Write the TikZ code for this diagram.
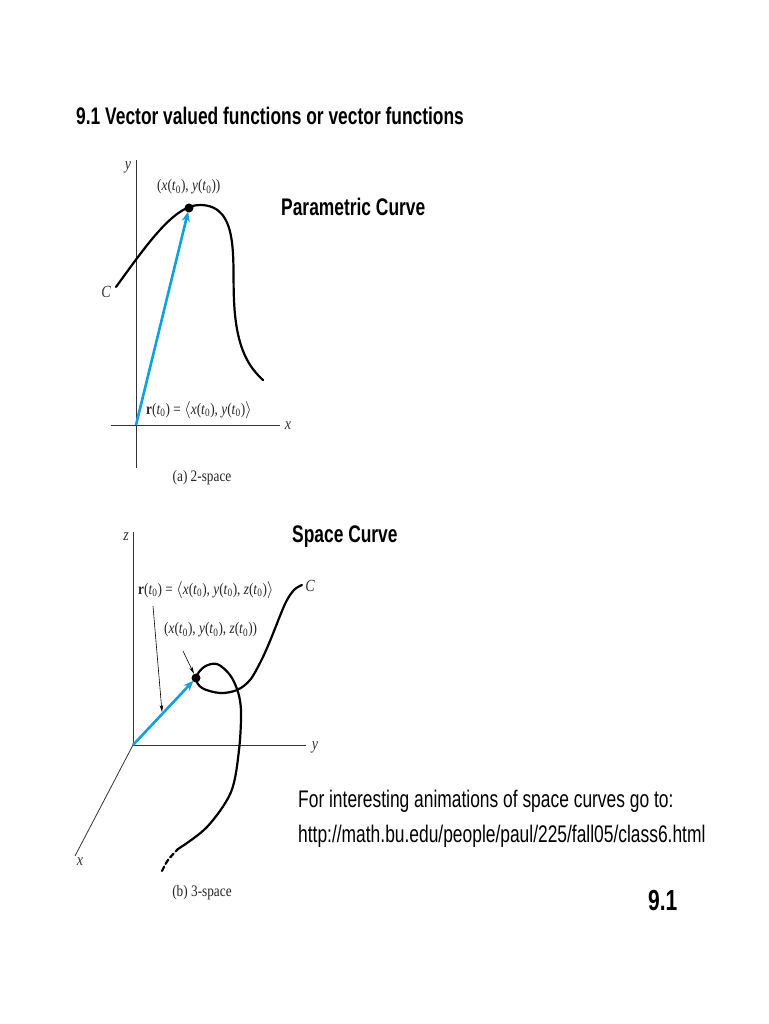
\documentclass[tikz,border=0pt]{standalone}
\usepackage{fontspec}
\setmainfont{Liberation Sans}[FakeStretch=0.725]
\newfontfamily\serf{Liberation Serif}[FakeStretch=0.83]
\usetikzlibrary{arrows.meta}
\definecolor{vecblue}{RGB}{15,160,228}
\newcommand{\tsub}{\textit{t}\textsubscript{0}}
\tikzset{
  axisline/.style={line width=0.8pt, draw=black!80},
  curveline/.style={line width=2.2pt, line cap=round},
  vec/.style={line width=2.6pt, draw=vecblue, -{Stealth[length=10pt,width=8pt,inset=3pt]}, shorten >=-1pt},
  thinarrow/.style={line width=0.6pt, -{Stealth[length=7pt,width=3.5pt]}},
  dotnode/.style={circle, fill=black, inner sep=0pt, minimum size=9pt},
  mlab/.style={font=\serf\fontsize{16}{18}\selectfont, inner sep=0pt, text=black!85},
  axlab/.style={font=\serf\itshape\fontsize{17}{19}\selectfont, inner sep=0pt, text=black!80},
  headtxt/.style={font=\bfseries\fontsize{24}{28}\selectfont, inner sep=0pt},
  bodytxt/.style={font=\fontsize{24}{28}\selectfont, inner sep=0pt},
}
\begin{document}
\begin{tikzpicture}[x=1pt,y=-1pt]
\useasboundingbox[fill=white] (0,0) rectangle (768,1024);

% ---------- texts ----------
\node[headtxt, anchor=west] (title) at (76,116) {9.1 Vector valued functions or vector functions};
\node[headtxt, anchor=west] (param) at (281,207) {Parametric Curve};
\node[headtxt, anchor=west] (space) at (292,537) {Space Curve};
\node[bodytxt, anchor=west] (for) at (298,801) {For interesting animations of space curves go to:};
\node[bodytxt, anchor=west] (url) at (298,836) {http://math.bu.edu/people/paul/225/fall05/class6.html};
\node[font=\bfseries\fontsize{29}{32}\selectfont, inner sep=0pt, anchor=west] (num) at (648,901) {9.1};

% ---------- (a) 2-space ----------
\coordinate (O1) at (136,425);
\coordinate (xa0) at (111,425);
\coordinate (xa1) at (280,425);
\coordinate (ya0) at (136,160);
\coordinate (ya1) at (136,468);
\draw[axisline] (xa0) -- (xa1);
\draw[axisline] (ya0) -- (ya1);
\node[axlab] (xl1) at (288,426) {x};
\node[axlab] (yl1) at (128,167) {y};
\node[axlab] (cl1) at (106,292) {C};

\draw[curveline] (116,287) .. controls (150,240) and (175,205) .. (200,205)
  .. controls (240,205) and (232,260) .. (234,300)
  .. controls (236,350) and (250,368) .. (263,380);
\node[dotnode] (P1) at (189,208) {};
\draw[vec] (O1) -- (P1);

\node[mlab, anchor=west] (pl1) at (157,187) {(\textit{x}(\tsub), \textit{y}(\tsub))};
\node[mlab, anchor=west] (rl1) at (146,410) {\textbf{r}(\tsub) = $\langle$\textit{x}(\tsub), \textit{y}(\tsub)$\rangle$};
\node[mlab] (cap1) at (202,478) {(a) 2-space};

% ---------- (b) 3-space ----------
\coordinate (O2) at (133,745);
\coordinate (za1) at (133,532);
\coordinate (ya2) at (306,745);
\coordinate (xa2) at (75,856);
\draw[axisline] (O2) -- (za1);
\draw[axisline] (O2) -- (ya2);
\draw[axisline] (O2) -- (xa2);
\node[axlab] (zl2) at (126,537) {z};
\node[axlab] (yl2) at (315,747) {y};
\node[axlab] (xl2) at (80,862) {x};
\node[axlab] (cl2) at (310,586) {C};

\draw[curveline, dash pattern=on 5pt off 3pt] plot[smooth] coordinates {(162,871) (168,860) (178,849)};
\draw[curveline] plot[smooth, tension=0.55] coordinates {
 (178,849) (207,827) (231,792) (239,750) (241,712) (238,692) (230,675) (217,664)
 (204,667) (196,678) (202,688) (220,693) (237,690) (250,680) (261,661) (270,641)
 (285,604) (294,590) (302,585)};
\node[dotnode] (P2) at (196,678) {};
\draw[vec] (O2) -- (P2);

\node[mlab, anchor=west] (rl2) at (138,590) {\textbf{r}(\tsub) = $\langle$\textit{x}(\tsub), \textit{y}(\tsub), \textit{z}(\tsub)$\rangle$};
\node[mlab, anchor=west] (pl2) at (164,630) {(\textit{x}(\tsub), \textit{y}(\tsub), \textit{z}(\tsub))};
\coordinate (a1s) at (153,606);
\coordinate (a1e) at (162,712);
\coordinate (a2s) at (183,651);
\draw[thinarrow] (a1s) -- (a1e);
\draw[thinarrow] (a2s) -- (P2);
\node[mlab] (cap2) at (202,893) {(b) 3-space};
\end{tikzpicture}
\end{document}
